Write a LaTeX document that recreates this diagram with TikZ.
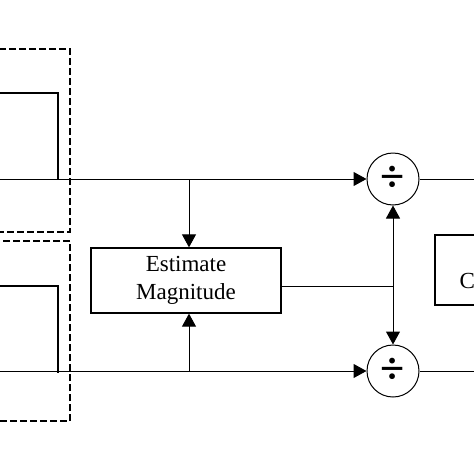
\documentclass[tikz,border=0pt]{standalone}
\usepackage{fontspec}
\setmainfont{Liberation Serif}
\usetikzlibrary{arrows.meta}
\begin{document}
\begin{tikzpicture}[x=1pt, y=-1pt, line width=1pt, line join=miter,
		>={Triangle[length=13pt, width=14pt]},
		font=\fontsize{23}{28}\selectfont,
		blk/.style={draw, rectangle, inner sep=0pt, align=center},
		divider/.style={draw, circle, minimum size=52pt, inner sep=0pt, font=\fontsize{44}{44}\selectfont\bfseries},
		grp/.style={draw, line width=1.4pt, dash pattern=on 7pt off 3pt}]
	\def\yt{179}
	\def\yb{371}
	\def\xd{393}
	\useasboundingbox (0,0) rectangle (474,474);
	\clip (0,0) rectangle (474,474);
	% input groups
	\draw[grp] (-10,49) rectangle (70,232);
	\draw[grp] (-10,241) rectangle (70,421);
	\draw[line width=1.3pt] (-10,93) -- (58,93) -- (58,\yt);
	\draw[line width=1.3pt] (-10,286) -- (58,286) -- (58,\yb+2);
	% blocks
	\node[blk, line width=1.3pt, minimum width=190pt, minimum height=65pt] (est) at (186,280.5) {Estimate\\Magnitude};
	\node[divider] (divt) at (\xd,\yt) {÷};
	\node[divider] (divb) at (\xd,\yb) {÷};
	\node[blk, line width=1.3pt, minimum width=100pt, minimum height=70pt] (comb) at (485,270) {};
	\node[anchor=west, inner sep=0pt] (combtxt) at (459,281) {C};
	% points
	\coordinate (int) at (0,\yt);
	\coordinate (inb) at (0,\yb);
	\coordinate (tapt) at (189,\yt);
	\coordinate (tapb) at (189,\yb);
	\coordinate (jn) at (\xd,286);
	\coordinate (outt) at (474,\yt);
	\coordinate (outb) at (474,\yb);
	% connectors
	\draw[->] (int) -- (divt);
	\draw[->] (inb) -- (divb);
	\draw[->] (tapt) -- (tapt |- est.north);
	\draw[->] (tapb) -- (tapb |- est.south);
	\draw (est.east |- jn) -- (jn);
	\draw[<->] (divt) -- (divb);
	\draw (divt) -- (outt);
	\draw (divb) -- (outb);
\end{tikzpicture}
\end{document}
